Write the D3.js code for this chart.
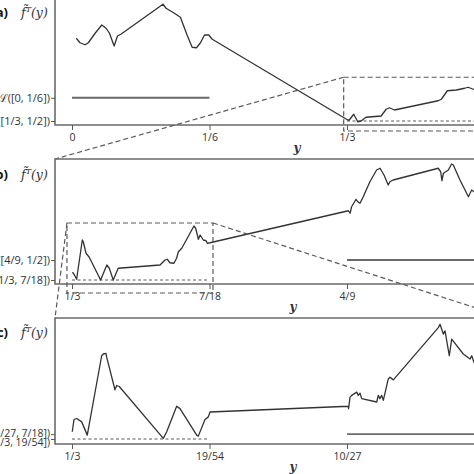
<!DOCTYPE html>
<html><head><meta charset="utf-8">
<script src="https://cdn.jsdelivr.net/npm/d3@7"></script>
<style>
html,body{margin:0;padding:0;background:#fff;overflow:hidden}
svg{display:block}
</style></head>
<body>
<script>
// ---------- DATA (y = argument, f = normalized value) ----------
const curveA = [
 [0.0052,0.694],[0.0097,0.658],[0.0158,0.642],[0.0198,0.658],[0.0280,0.734],[0.0361,0.800],
 [0.0414,0.774],[0.0454,0.734],[0.0511,0.632],[0.0551,0.712],[0.0592,0.726],[0.1103,0.966],
 [0.1140,0.934],[0.1232,0.898],[0.1314,0.862],[0.1395,0.720],[0.1456,0.622],[0.1509,0.618],
 [0.1557,0.658],[0.1606,0.720],[0.1658,0.720],[0.1700,0.686],[0.3342,0.040],[0.3361,0.040],
 [0.3415,0.086],[0.3464,0.026],[0.3504,0.032],[0.3564,0.062],[0.3747,0.072],[0.3808,0.126],
 [0.3848,0.138],[0.3909,0.120],[0.4437,0.194],[0.4477,0.206],[0.4550,0.274],[0.4659,0.280],
 [0.4760,0.294],[0.4802,0.302],[0.4863,0.286],[0.4890,0.280],[0.5000,0.300]
];
const curveB = [
 [0.3335,0.094],[0.3341,0.080],[0.3352,0.038],[0.3375,0.352],[0.3379,0.338],[0.3390,0.246],
 [0.3403,0.214],[0.3449,0.032],[0.3474,0.152],[0.3484,0.126],[0.3500,0.032],[0.3520,0.126],
 [0.3689,0.152],[0.3709,0.192],[0.3718,0.198],[0.3729,0.170],[0.3745,0.166],[0.3756,0.206],
 [0.3763,0.258],[0.3777,0.286],[0.3826,0.464],[0.3833,0.446],[0.3844,0.358],[0.3851,0.392],
 [0.3864,0.352],[0.3875,0.346],[0.3880,0.326],[0.3891,0.330],[0.4450,0.586],[0.4457,0.566],
 [0.4463,0.618],[0.4481,0.678],[0.4488,0.658],[0.4497,0.646],[0.4510,0.698],[0.4537,0.818],
 [0.4564,0.912],[0.4578,0.926],[0.4594,0.872],[0.4611,0.792],[0.4618,0.818],[0.4625,0.826],
 [0.4631,0.832],[0.4813,0.926],[0.4823,0.898],[0.4828,0.826],[0.4834,0.886],[0.4854,0.912],
 [0.4867,0.960],[0.4874,0.952],[0.4901,0.832],[0.4935,0.698],[0.4948,0.752],[0.4958,0.738],
 [0.5000,0.760]
];
const curveC = [
 [0.33337,0.098],[0.33360,0.196],[0.33397,0.204],[0.33464,0.177],[0.33539,0.071],[0.33733,0.706],
 [0.33755,0.720],[0.33791,0.725],[0.33801,0.693],[0.33912,0.434],[0.33935,0.468],[0.33970,0.460],
 [0.34563,0.045],[0.34609,0.098],[0.34743,0.302],[0.34788,0.283],[0.35013,0.071],[0.35034,0.063],
 [0.35125,0.196],[0.35169,0.217],[0.35192,0.256],[0.37055,0.302],[0.37058,0.283],[0.37078,0.375],
 [0.37100,0.389],[0.37168,0.415],[0.37189,0.389],[0.37212,0.407],[0.37235,0.363],[0.37437,0.336],
 [0.37458,0.389],[0.37481,0.363],[0.37504,0.389],[0.37526,0.349],[0.37593,0.521],[0.37616,0.534],
 [0.37661,0.513],[0.38267,0.931],[0.38290,0.958],[0.38313,0.918],[0.38334,0.879],[0.38357,0.905],
 [0.38415,0.706],[0.38447,0.839],[0.38603,0.720],[0.38694,0.680],[0.38717,0.706],[0.38747,0.653],
 [0.38889,0.600]
];

const xTicksA = [0, 1/6, 1/3];      const xTickLabelsA = ["0", "1/6", "1/3"];
const xTicksB = [1/3, 7/18, 4/9];   const xTickLabelsB = ["1/3", "7/18", "4/9"];
const xTicksC = [1/3, 19/54, 10/27]; const xTickLabelsC = ["1/3", "19/54", "10/27"];

const yTicksA = [0.218, 0.032]; const yTickLabelsA = ["ℒ([0, 1/6])", "ℒ([1/3, 1/2])"];
const yTicksB = [0.192, 0.032]; const yTickLabelsB = ["ℒ([4/9, 1/2])", "ℒ([1/3, 7/18])"];
const yTicksC = [0.079, 0.040]; const yTickLabelsC = ["ℒ([10/27, 7/18])", "ℒ([1/3, 19/54])"];

// level segments: [yStart, yEnd, level]
const solidLevelsA = [[0, 1/6, 0.218]];    const dottedLevelsA = [[1/3, 0.5, 0.032]];
const solidLevelsB = [[4/9, 0.5, 0.192]];  const dottedLevelsB = [[1/3, 7/18, 0.032]];
const solidLevelsC = [[10/27, 7/18, 0.079]]; const dottedLevelsC = [[1/3, 19/54, 0.040]];

// zoom rectangles: [y0, y1, f0, f1]
const zoomRectA = [0.3293, 0.5060, -0.048, 0.382];
const zoomRectB = [0.3313, 0.3903, -0.072, 0.488];

const panelLetters = ["a)", "b)", "c)"];

// ---------- LAYOUT ----------
const W = 474, H = 474;
const frameL = 55, frameR = 507;
const panels = [
  {top: -6,  axis: 125, xd: [0, 0.5],   curve: curveA, xt: xTicksA, xl: xTickLabelsA, yt: yTicksA, yl: yTickLabelsA,
   solid: solidLevelsA, dotted: dottedLevelsA, rect: zoomRectA, letter: panelLetters[0], labelY: 13, yLabelX: 297},
  {top: 159, axis: 284, xd: [1/3, 1/2], curve: curveB, xt: xTicksB, xl: xTickLabelsB, yt: yTicksB, yl: yTickLabelsB,
   solid: solidLevelsB, dotted: dottedLevelsB, rect: zoomRectB, letter: panelLetters[1], labelY: 175, yLabelX: 293},
  {top: 318, axis: 444, xd: [1/3, 7/18], curve: curveC, xt: xTicksC, xl: xTickLabelsC, yt: yTicksC, yl: yTickLabelsC,
   solid: solidLevelsC, dotted: dottedLevelsC, rect: null, letter: panelLetters[2], labelY: 333, yLabelX: 293}
];

const svg = d3.select("body").append("svg").attr("width", W).attr("height", H);
const gray = "#5a5a5a", dark = "#333";

panels.forEach((p, i) => {
  p.x = d3.scaleLinear().domain(p.xd).range([72, 484.5]);
  p.y = d3.scaleLinear().domain([0, 1]).range([p.axis, p.axis - 125]);
});

panels.forEach((p, i) => {
  const g = svg.append("g");
  // frame
  g.append("path")
    .attr("d", `M${frameR},${p.top}H${frameL}V${p.axis}H${frameR}`)
    .attr("fill", "none").attr("stroke", "#6a6a6a").attr("stroke-width", 1.6);

  // x axis ticks
  const xa = d3.axisBottom(p.x).tickValues(p.xt).tickSize(5).tickPadding(4)
    .tickFormat((d, k) => p.xl[k]);
  const gx = g.append("g").attr("transform", `translate(0,${p.axis})`).call(xa);
  gx.select(".domain").remove();
  gx.selectAll("line").attr("stroke", gray);
  gx.selectAll("text").attr("font-family", "Open Sans, sans-serif").attr("font-size", 10.5).attr("fill", dark);

  // y axis ticks
  const ya = d3.axisLeft(p.y).tickValues(p.yt).tickSize(4).tickPadding(1)
    .tickFormat((d, k) => p.yl[k]);
  const gy = g.append("g").attr("transform", `translate(${frameL},0)`).call(ya);
  gy.select(".domain").remove();
  gy.selectAll("line").attr("stroke", gray);
  gy.selectAll("text").attr("font-family", "Open Sans, sans-serif").attr("font-size", 11).attr("fill", dark);
  if (i === 2) gy.selectAll("text").attr("font-size", 10.5).attr("dy", (d, k) => k === 1 ? "0.62em" : "0.22em");

  // axis title y
  g.append("text").attr("x", p.yLabelX).attr("y", p.axis + 27)
    .attr("text-anchor", "middle").attr("font-family", "DejaVu Serif, serif")
    .attr("font-style", "italic").attr("font-weight", "bold").attr("font-size", 12).attr("fill", dark).text("y");

  // f label
  const fl = g.append("text").attr("x", 21).attr("y", p.labelY + 4)
    .attr("font-family", "DejaVu Serif, serif").attr("font-style", "italic")
    .attr("font-size", 12.5).attr("fill", dark);
  fl.append("tspan").text("f\u0303");
  fl.append("tspan").attr("dy", -5).attr("font-size", 8).text("T");
  fl.append("tspan").attr("dy", 5).text("(y)");

  // panel letter
  g.append("text").attr("x", 8).attr("y", p.labelY + 4).attr("text-anchor", "end")
    .attr("font-family", "Open Sans, sans-serif").attr("font-weight", "bold")
    .attr("font-size", 13).attr("fill", "#111").text("(" + p.letter);

  // solid levels
  g.selectAll(".lvl").data(p.solid).enter().append("line")
    .attr("x1", d => p.x(d[0])).attr("x2", d => p.x(d[1]))
    .attr("y1", d => p.y(d[2])).attr("y2", d => p.y(d[2]))
    .attr("stroke", "#6a6a6a").attr("stroke-width", 1.8);
  // dotted levels
  g.selectAll(".dl").data(p.dotted).enter().append("line")
    .attr("x1", d => p.x(d[0])).attr("x2", d => p.x(d[1]))
    .attr("y1", d => p.y(d[2])).attr("y2", d => p.y(d[2]))
    .attr("stroke", gray).attr("stroke-width", 1.2).attr("stroke-dasharray", "3,2.5");

  // curve
  g.append("path").datum(p.curve)
    .attr("d", d3.line().x(d => p.x(d[0])).y(d => p.y(d[1])))
    .attr("fill", "none").attr("stroke", dark).attr("stroke-width", 1.3).attr("stroke-linejoin", "round");

  // zoom rectangle + connectors
  if (p.rect) {
    const r = p.rect, nx = panels[i + 1];
    const x0 = p.x(r[0]), x1 = p.x(r[1]), y0 = p.y(r[2]), y1 = p.y(r[3]);
    const dash = {stroke: gray, "stroke-width": 1.2, "stroke-dasharray": "5,3", fill: "none"};
    const rect = g.append("rect").attr("x", x0).attr("y", y1).attr("width", x1 - x0).attr("height", y0 - y1);
    Object.entries(dash).forEach(([k, v]) => rect.attr(k, v));
    [[x0, y1, frameL, nx.top], [x1, y1, frameR, nx.top]].forEach(c => {
      const l = g.append("line").attr("x1", c[0]).attr("y1", c[1]).attr("x2", c[2]).attr("y2", c[3]);
      Object.entries(dash).forEach(([k, v]) => l.attr(k, v));
    });
  }
});
</script>
</body></html>
